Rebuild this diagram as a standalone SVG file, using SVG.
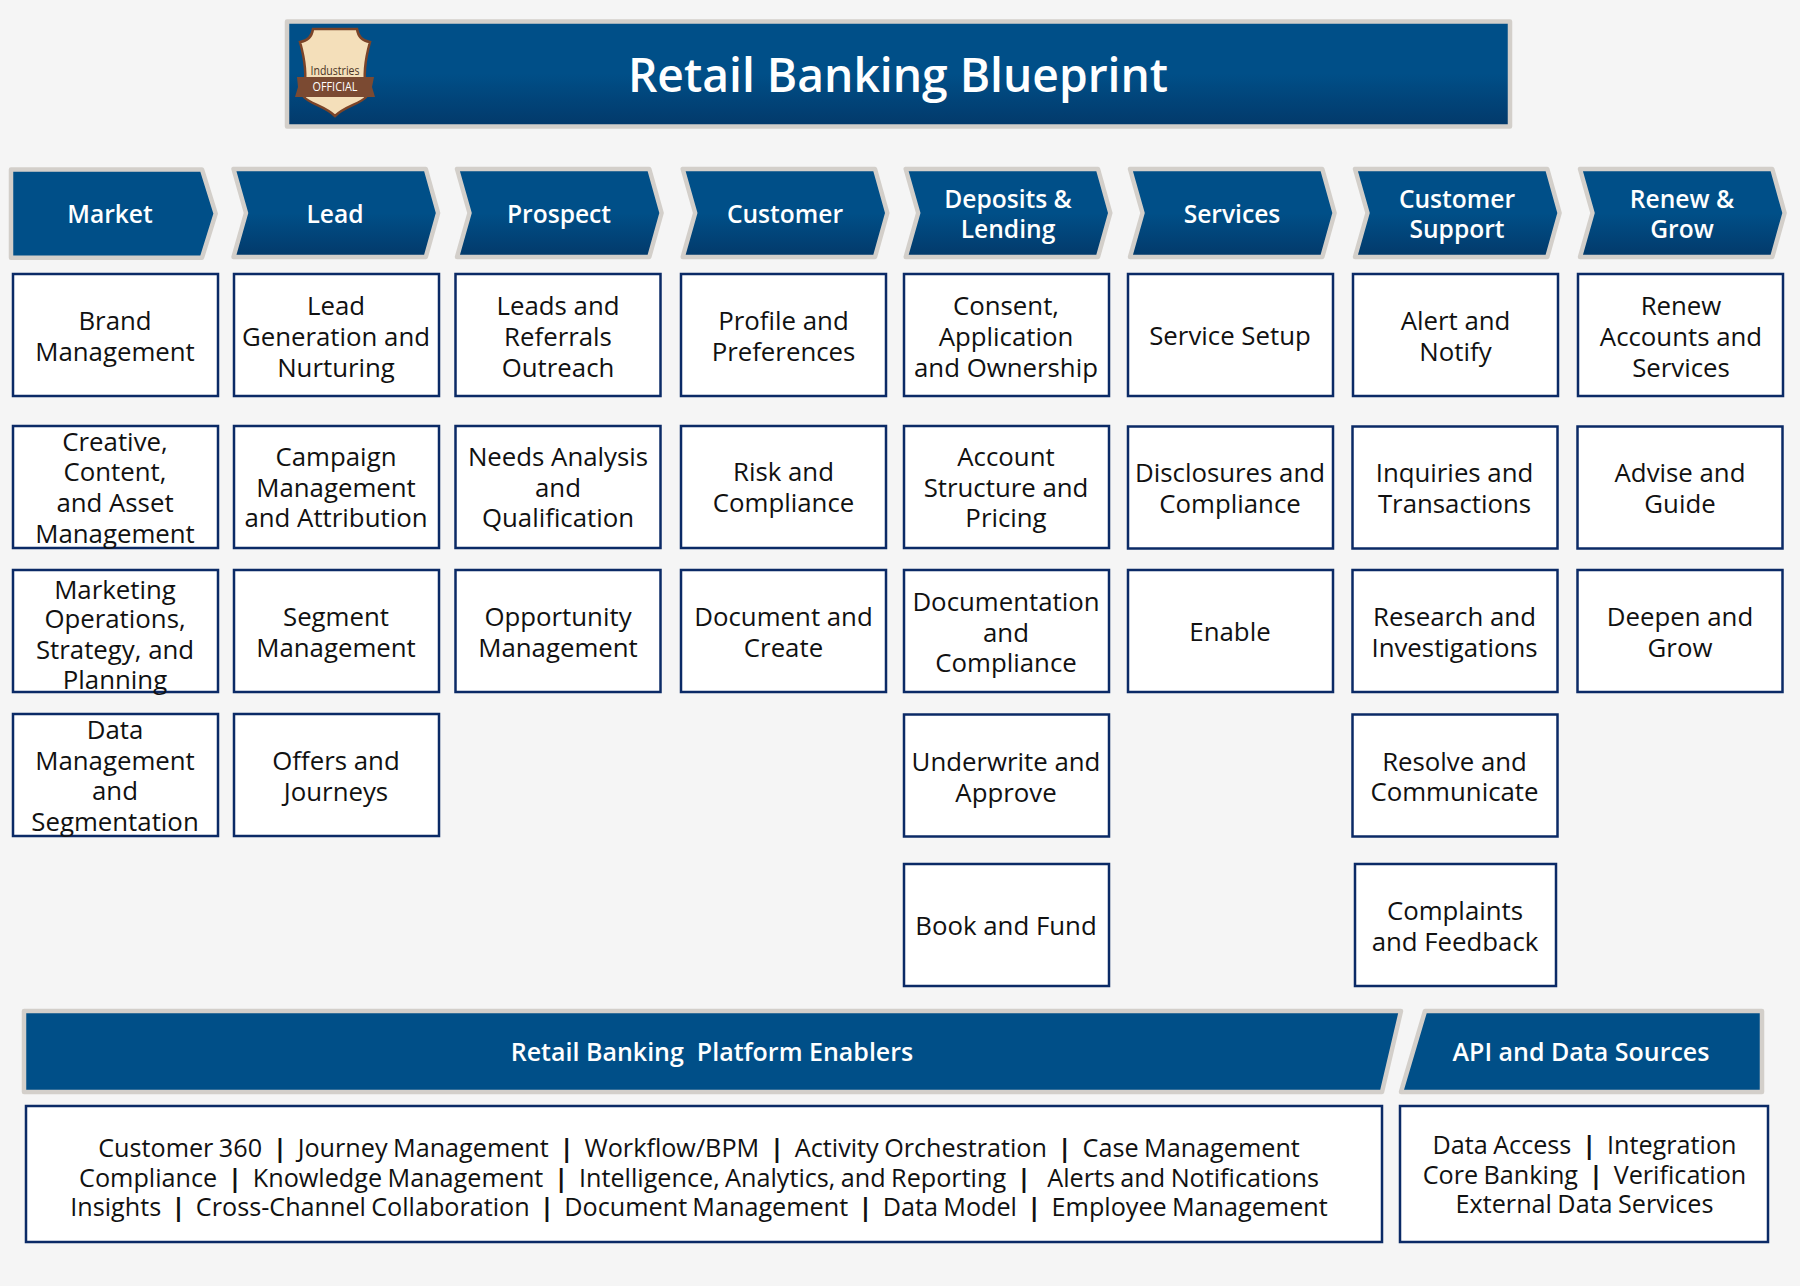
<svg xmlns="http://www.w3.org/2000/svg" width="1800" height="1286" viewBox="0 0 1800 1286">
<defs>
<linearGradient id="g" x1="0" y1="0" x2="0" y2="1"><stop offset="0" stop-color="#004f88"/><stop offset="0.5" stop-color="#004f88"/><stop offset="1" stop-color="#03396a"/></linearGradient>
<polygon id="chev" points="0,169 192.300,169 204.600,213 192.300,257 0,257 12.500,213"/>
</defs>
<style>
text{font-family:"Open Sans","Noto Sans","Liberation Sans",sans-serif;text-anchor:middle}
.b{fill:#fff;stroke:#0b2a66;stroke-width:2.500}
.t{font-size:25.800px;fill:#111}
.e{font-size:25.200px;fill:#111;word-spacing:-1.100px}
.h{fill:url(#g);stroke:#d3cfca;stroke-width:4.500;stroke-linejoin:round}
.f{fill:#004f88;stroke:#d3cfca;stroke-width:4.500;stroke-linejoin:round}
.w{font-size:24.600px;font-weight:600;fill:#fff}
.x{font-size:25px;font-weight:600;fill:#fff}
.p{font-weight:700}
.n{word-spacing:-1.350px}
</style>
<rect width="1800" height="1286" fill="#f5f5f5"/>
<g id="title">
<rect class="h" x="287" y="21.500" width="1223" height="105"/>
<text x="898" y="91.500" fill="#fff" font-weight="600" style="font-size:46.200px">Retail Banking Blueprint</text>
</g>
<g id="badge">
<path d="M313,29 H357 C358,36 362,41 370,42 C365,60 363,75 366,90 L366,97 C360,104 345,106 335,116 C325,106 310,104 304,97 L304,90 C307,75 305,60 300,42 C308,41 312,36 313,29Z" fill="#f4dfba" stroke="#7c4428" stroke-width="2.500"/>
<polygon points="297,77 374,77 372,87 375,97 295,97 298,87" fill="#7b4a32"/>
<text x="335" y="75" style="font-size:13px" fill="#4a3324" textLength="49" lengthAdjust="spacingAndGlyphs">Industries</text>
<text x="335" y="91" style="font-size:13px" fill="#fff" textLength="45" lengthAdjust="spacingAndGlyphs">OFFICIAL</text>
</g>
<g id="headers">
<g id="h-market"><polygon class="f" points="11,169.500 202,169.500 215.700,213.700 202,257.700 11,257.700"/><text class="w" x="110" y="223">Market</text></g>
<g id="h-lead"><use href="#chev" class="h" x="233.500"/><text class="w" x="335" y="223">Lead</text></g>
<g id="h-prospect"><use href="#chev" class="h" x="457"/><text class="w" x="559" y="223">Prospect</text></g>
<g id="h-customer"><use href="#chev" class="h" x="682.700"/><text class="w" x="785" y="223">Customer</text></g>
<g id="h-deposits"><use href="#chev" class="h" x="905.700"/><text class="w"><tspan x="1008" y="208">Deposits &amp;</tspan><tspan x="1008" y="238">Lending</tspan></text></g>
<g id="h-services"><use href="#chev" class="h" x="1130"/><text class="w" x="1232" y="223">Services</text></g>
<g id="h-support"><use href="#chev" class="h" x="1355"/><text class="w"><tspan x="1457" y="208">Customer</tspan><tspan x="1457" y="238">Support</tspan></text></g>
<g id="h-renew"><use href="#chev" class="h" x="1580"/><text class="w"><tspan x="1682" y="208">Renew &amp;</tspan><tspan x="1682" y="238">Grow</tspan></text></g>
</g>
<g id="nodes">
<g id="n-brand"><rect class="b" x="13" y="274" width="205" height="122"/><text class="t"><tspan x="115" y="329.500">Brand</tspan><tspan x="115" y="360.500">Management</tspan></text></g>
<g id="n-creative"><rect class="b" x="13" y="426" width="205" height="122"/><text class="t"><tspan x="115" y="451">Creative,</tspan><tspan x="115" y="481">Content,</tspan><tspan x="115" y="512">and Asset</tspan><tspan x="115" y="543">Management</tspan></text></g>
<g id="n-marketing"><rect class="b" x="13" y="570" width="205" height="122"/><text class="t"><tspan x="115" y="599">Marketing</tspan><tspan x="115" y="628">Operations,</tspan><tspan x="115" y="659">Strategy, and</tspan><tspan x="115" y="689">Planning</tspan></text></g>
<g id="n-data"><rect class="b" x="13" y="714" width="205" height="122"/><text class="t"><tspan x="115" y="739">Data</tspan><tspan x="115" y="770">Management</tspan><tspan x="115" y="800">and</tspan><tspan x="115" y="831">Segmentation</tspan></text></g>
<g id="n-leadgen"><rect class="b" x="234" y="274" width="205" height="122"/><text class="t"><tspan x="336" y="315">Lead</tspan><tspan x="336" y="345.500">Generation and</tspan><tspan x="336" y="376.500">Nurturing</tspan></text></g>
<g id="n-campaign"><rect class="b" x="234" y="426" width="205" height="122"/><text class="t"><tspan x="336" y="466">Campaign</tspan><tspan x="336" y="497">Management</tspan><tspan x="336" y="527">and Attribution</tspan></text></g>
<g id="n-segment"><rect class="b" x="234" y="570" width="205" height="122"/><text class="t"><tspan x="336" y="626">Segment</tspan><tspan x="336" y="657">Management</tspan></text></g>
<g id="n-offers"><rect class="b" x="234" y="714" width="205" height="122"/><text class="t"><tspan x="336" y="770">Offers and</tspan><tspan x="336" y="801">Journeys</tspan></text></g>
<g id="n-leads"><rect class="b" x="455.500" y="274" width="205" height="122"/><text class="t"><tspan x="558" y="315">Leads and</tspan><tspan x="558" y="345.500">Referrals</tspan><tspan x="558" y="376.500">Outreach</tspan></text></g>
<g id="n-needs"><rect class="b" x="455.500" y="426" width="205" height="122"/><text class="t"><tspan x="558" y="466">Needs Analysis</tspan><tspan x="558" y="497">and</tspan><tspan x="558" y="527">Qualification</tspan></text></g>
<g id="n-opportunity"><rect class="b" x="455.500" y="570" width="205" height="122"/><text class="t"><tspan x="558" y="626">Opportunity</tspan><tspan x="558" y="657">Management</tspan></text></g>
<g id="n-profile"><rect class="b" x="681" y="274" width="205" height="122"/><text class="t"><tspan x="783.500" y="329.500">Profile and</tspan><tspan x="783.500" y="360.500">Preferences</tspan></text></g>
<g id="n-risk"><rect class="b" x="681" y="426" width="205" height="122"/><text class="t"><tspan x="783.500" y="481">Risk and</tspan><tspan x="783.500" y="512">Compliance</tspan></text></g>
<g id="n-document"><rect class="b" x="681" y="570" width="205" height="122"/><text class="t"><tspan x="783.500" y="626">Document and</tspan><tspan x="783.500" y="657">Create</tspan></text></g>
<g id="n-consent"><rect class="b" x="904" y="274" width="205" height="122"/><text class="t"><tspan x="1006" y="315">Consent,</tspan><tspan x="1006" y="345.500">Application</tspan><tspan x="1006" y="376.500">and Ownership</tspan></text></g>
<g id="n-account"><rect class="b" x="904" y="426" width="205" height="122"/><text class="t"><tspan x="1006" y="466">Account</tspan><tspan x="1006" y="497">Structure and</tspan><tspan x="1006" y="527">Pricing</tspan></text></g>
<g id="n-documentation"><rect class="b" x="904" y="570" width="205" height="122"/><text class="t"><tspan x="1006" y="611">Documentation</tspan><tspan x="1006" y="642">and</tspan><tspan x="1006" y="672">Compliance</tspan></text></g>
<g id="n-underwrite"><rect class="b" x="904" y="714.500" width="205" height="122"/><text class="t"><tspan x="1006" y="771">Underwrite and</tspan><tspan x="1006" y="802">Approve</tspan></text></g>
<g id="n-book"><rect class="b" x="904" y="864" width="205" height="122"/><text class="t" x="1006" y="935">Book and Fund</text></g>
<g id="n-setup"><rect class="b" x="1128" y="274" width="205" height="122"/><text class="t" x="1230" y="345">Service Setup</text></g>
<g id="n-disclosures"><rect class="b" x="1128" y="426.500" width="205" height="122"/><text class="t"><tspan x="1230" y="481.500">Disclosures and</tspan><tspan x="1230" y="512.500">Compliance</tspan></text></g>
<g id="n-enable"><rect class="b" x="1128" y="570" width="205" height="122"/><text class="t" x="1230" y="641">Enable</text></g>
<g id="n-alert"><rect class="b" x="1353" y="274" width="205" height="122"/><text class="t"><tspan x="1455.500" y="329.500">Alert and</tspan><tspan x="1455.500" y="360.500">Notify</tspan></text></g>
<g id="n-inquiries"><rect class="b" x="1352.500" y="426.500" width="205" height="122"/><text class="t"><tspan x="1454.500" y="481.500">Inquiries and</tspan><tspan x="1454.500" y="512.500">Transactions</tspan></text></g>
<g id="n-research"><rect class="b" x="1352.500" y="570" width="205" height="122"/><text class="t"><tspan x="1454.500" y="626">Research and</tspan><tspan x="1454.500" y="657">Investigations</tspan></text></g>
<g id="n-resolve"><rect class="b" x="1352.500" y="714.500" width="205" height="122"/><text class="t"><tspan x="1454.500" y="771">Resolve and</tspan><tspan x="1454.500" y="801">Communicate</tspan></text></g>
<g id="n-complaints"><rect class="b" x="1355" y="864" width="201" height="122"/><text class="t"><tspan x="1455" y="920">Complaints</tspan><tspan x="1455" y="951">and Feedback</tspan></text></g>
<g id="n-renew"><rect class="b" x="1578" y="274" width="205" height="122"/><text class="t"><tspan x="1681" y="315">Renew</tspan><tspan x="1681" y="345.500">Accounts and</tspan><tspan x="1681" y="376.500">Services</tspan></text></g>
<g id="n-advise"><rect class="b" x="1577.500" y="426.500" width="205" height="122"/><text class="t"><tspan x="1680" y="481.500">Advise and</tspan><tspan x="1680" y="512.500">Guide</tspan></text></g>
<g id="n-deepen"><rect class="b" x="1577.500" y="570" width="205" height="122"/><text class="t"><tspan x="1680" y="626">Deepen and</tspan><tspan x="1680" y="657">Grow</tspan></text></g>
</g>
<g id="platform">
<polygon class="f" points="24,1011 1401,1011 1382,1092 24,1092"/>
<text class="x" x="712" y="1061" xml:space="preserve">Retail Banking  Platform Enablers</text>
</g>
<g id="api">
<polygon class="f" points="1425,1011 1762,1011 1762,1092 1401,1092"/>
<text class="x" x="1581" y="1061">API and Data Sources</text>
</g>
<g id="enablers">
<rect class="b" x="26" y="1106" width="1356" height="136"/>
<text class="e" xml:space="preserve"><tspan x="699" y="1157">Customer 360  <tspan class="p">|</tspan>  Journey Management  <tspan class="p">|</tspan>  Workflow/BPM  <tspan class="p">|</tspan>  Activity Orchestration  <tspan class="p">|</tspan>  Case Management</tspan><tspan x="699" y="1187">Compliance  <tspan class="p">|</tspan>  Knowledge Management  <tspan class="p">|</tspan>  Intelligence, Analytics, and Reporting  <tspan class="p">|</tspan>   Alerts and Notifications</tspan><tspan class="n" x="699" y="1215.700">Insights  <tspan class="p">|</tspan>  Cross-Channel Collaboration  <tspan class="p">|</tspan>  Document Management  <tspan class="p">|</tspan>  Data Model  <tspan class="p">|</tspan>  Employee Management</tspan></text>
</g>
<g id="sources">
<rect class="b" x="1400" y="1106" width="368" height="136"/>
<text class="e" xml:space="preserve"><tspan x="1584.500" y="1154">Data Access  <tspan class="p">|</tspan>  Integration</tspan><tspan x="1584.500" y="1184">Core Banking  <tspan class="p">|</tspan>  Verification</tspan><tspan x="1584.500" y="1212.700">External Data Services</tspan></text>
</g>
</svg>
